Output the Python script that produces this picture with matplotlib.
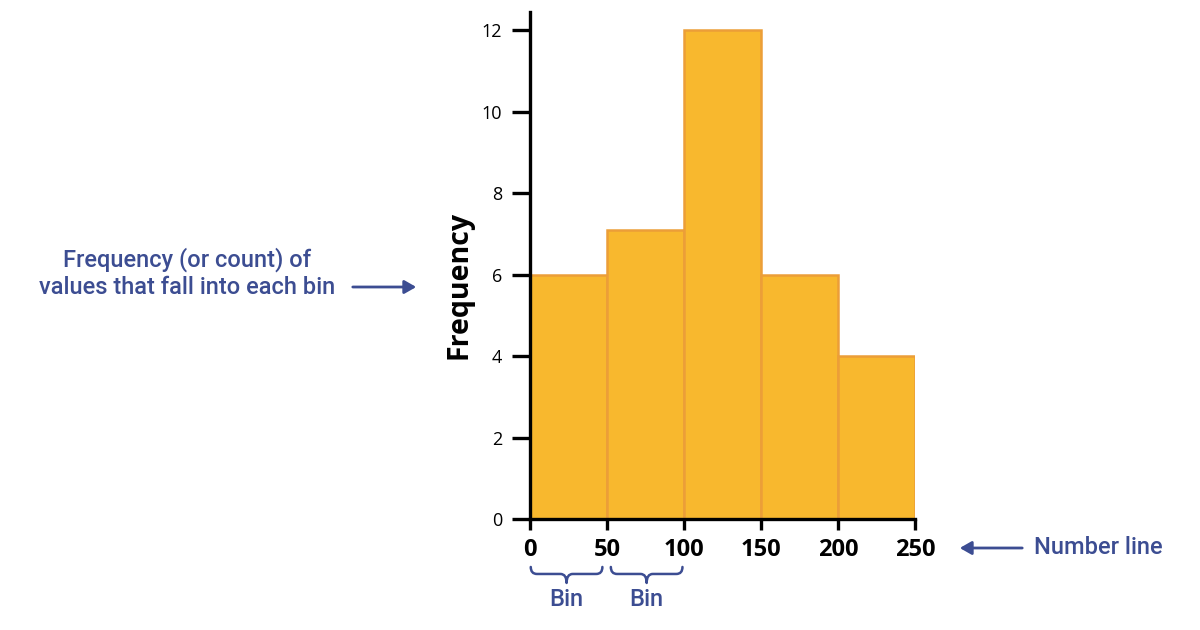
import matplotlib
matplotlib.use("Agg")
import matplotlib.pyplot as plt
import numpy as np
from matplotlib.path import Path
from matplotlib.patches import PathPatch

# ---- data ----
bin_edges = [0, 50, 100, 150, 200, 250]
counts = [6, 7.1, 12, 6, 4]
y_ticks = [0, 2, 4, 6, 8, 10, 12]
x_ticks = [0, 50, 100, 150, 200, 250]
y_label = "Frequency"
note_freq = "Frequency (or count) of\nvalues that fall into each bin"
note_line = "Number line"
bin_label = "Bin"

BLUE = "#3C4D92"
FILL = "#F8B82E"
EDGE = "#EC9E38"

fig = plt.figure(figsize=(12, 6.3), dpi=100)
ax = fig.add_axes([530/1200, 1-519/630, 385/1200, 507/630])

edges = np.array(bin_edges)
ax.bar(edges[:-1], counts, width=np.diff(edges), align="edge",
       color=FILL, edgecolor=EDGE, linewidth=1.8, zorder=2)

ax.set_xlim(0, 250)
ax.set_ylim(0, 12.45)
for s in ["top", "right"]:
    ax.spines[s].set_visible(False)
for s in ["left", "bottom"]:
    ax.spines[s].set_linewidth(2.4)
    ax.spines[s].set_color("black")
    ax.spines[s].set_zorder(3)

ax.set_yticks(y_ticks)
ax.set_xticks(x_ticks)
ax.tick_params(axis="y", length=13, width=2.4, pad=7, labelsize=13)
ax.tick_params(axis="x", length=8, width=2.4, pad=6, labelsize=17)
for lab in ax.get_yticklabels():
    lab.set_fontfamily("Open Sans")
for lab in ax.get_xticklabels():
    lab.set_fontfamily("Open Sans")
    lab.set_fontweight("bold")

ax.set_ylabel(y_label, fontsize=20.5, fontweight="bold", family="Open Sans")
ax.yaxis.set_label_coords(-(530 - 473) / 385, (519 - 285) / 507)

# annotation: frequency
fig.text(187/1200, 1-273/630, note_freq, ha="center", va="center", color=BLUE,
         fontsize=17, family="Roboto", fontweight="medium", linespacing=1.2)
fig.add_artist(matplotlib.patches.FancyArrowPatch(
    (350/1200, 1-287/630), (419/1200, 1-287/630), transform=fig.transFigure,
    arrowstyle="-|>,head_length=7,head_width=4", color=BLUE, lw=2, mutation_scale=1))

# annotation: number line
fig.text(1034/1200, 1-548/630, note_line, ha="left", va="center", color=BLUE,
         fontsize=17, family="Roboto", fontweight="medium")
fig.add_artist(matplotlib.patches.FancyArrowPatch(
    (1025/1200, 1-548/630), (957/1200, 1-548/630), transform=fig.transFigure,
    arrowstyle="-|>,head_length=7,head_width=4", color=BLUE, lw=2, mutation_scale=1))

# braces under first two bins
px = 1/40.75
def brace(x0, x1, yt, ym, yb, r):
    xc = (x0 + x1) / 2
    verts = [(x0, yt), (x0, ym), (x0 + r, ym),
             (xc - r, ym), (xc, ym), (xc, yb),
             (xc, ym), (xc + r, ym),
             (x1 - r, ym), (x1, ym), (x1, yt)]
    codes = [Path.MOVETO, Path.CURVE3, Path.CURVE3,
             Path.LINETO, Path.CURVE3, Path.CURVE3,
             Path.CURVE3, Path.CURVE3,
             Path.LINETO, Path.CURVE3, Path.CURVE3]
    p = PathPatch(Path(verts, codes), fill=False, edgecolor=BLUE, lw=1.8,
                  clip_on=False, capstyle="round", joinstyle="round")
    ax.add_patch(p)
    ax.text(xc, -(600-519)*px, bin_label, ha="center", va="center", color=BLUE,
            fontsize=17, family="Roboto", fontweight="medium", clip_on=False)

for i in range(2):
    a, b = bin_edges[i], bin_edges[i+1]
    brace(a + 0.5 + 2*i, b - 3 + 2*i, -(567-519)*px, -(574-519)*px, -(583-519)*px, 4)

fig.savefig("out.png", dpi=100)
